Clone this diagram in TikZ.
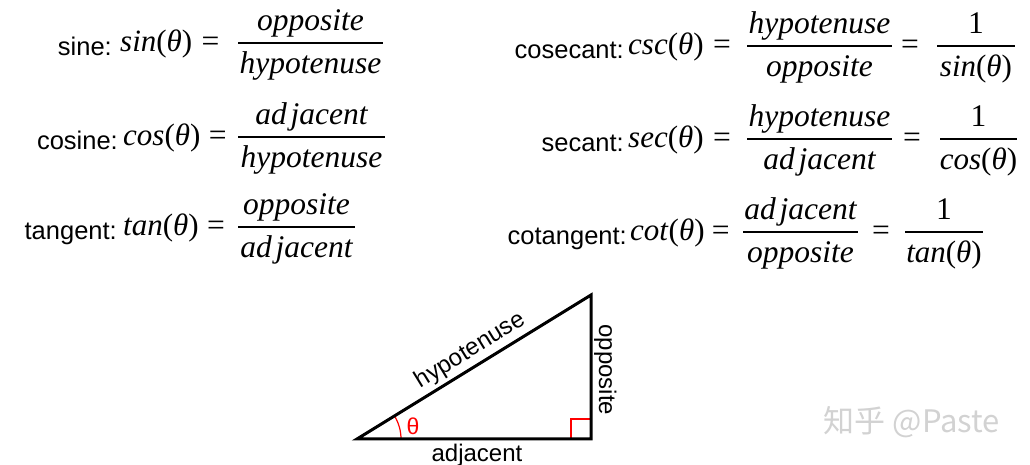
\documentclass[tikz,border=0pt]{standalone}
\usepackage{fontspec}
\setmainfont{Liberation Serif}
\setsansfont{Liberation Sans}
\newfontfamily\cjkfont{Noto Sans CJK SC}
\newcommand{\tfn}[1]{\textit{#1}\textup{(}\textit{θ}\textup{)}}
\newcommand{\adjw}{ad\kern0.12em jacent}
\begin{document}
\begin{tikzpicture}[x=1pt,y=1pt,
  lab/.style={font=\sffamily\fontsize{25.5}{30}\selectfont, anchor=base east, inner sep=0pt},
  lhs/.style={font=\fontsize{31}{36}\selectfont, anchor=base west, inner sep=0pt},
  fr/.style={font=\itshape\fontsize{31.5}{36}\selectfont, anchor=base, inner sep=0pt},
  eqs/.style={font=\fontsize{31.5}{36}\selectfont, anchor=base, inner sep=0pt},
  eql/.style={font=\fontsize{31.5}{36}\selectfont, anchor=base west, inner sep=0pt},
  fbar/.style={line width=1.4pt},
  tri/.style={line width=3pt, line join=miter},
  tlab/.style={font=\sffamily\fontsize{24}{28}\selectfont, inner sep=3pt},
  redmark/.style={red, line width=1.2pt}]
\useasboundingbox (0,0) rectangle (1030,465);

% ---------- sine ----------
\begin{scope}[yshift=422pt]
\node[lab] (lsin) at (112,-13) {sine:};
\node[lhs] (esin) at (120,-9) {\tfn{sin}};
\node[eql] (qsin) at ([xshift=9pt]esin.base east) {=};
\coordinate (sinA) at (238,0); \coordinate (sinB) at (383,0);
\draw[fbar] (sinA) -- (sinB);
\node[fr] (nsin) at (310.5,12) {opposite};
\node[fr] (dsin) at (310.5,-31) {hypotenuse};
\end{scope}

% ---------- cosine ----------
\begin{scope}[yshift=328pt]
\node[lab] (lcos) at (118,-13) {cosine:};
\node[lhs] (ecos) at (123,-9) {\tfn{cos}};
\node[eql] (qcos) at ([xshift=8pt]ecos.base east) {=};
\coordinate (cosA) at (238,0); \coordinate (cosB) at (385,0);
\draw[fbar] (cosA) -- (cosB);
\node[fr] (ncos) at (311.5,12) {\adjw};
\node[fr] (dcos) at (311.5,-31) {hypotenuse};
\end{scope}

% ---------- tangent ----------
\begin{scope}[yshift=238pt]
\node[lab] (ltan) at (117,-13) {tangent:};
\node[lhs] (etan) at (123,-9) {\tfn{tan}};
\node[eql] (qtan) at ([xshift=8pt]etan.base east) {=};
\coordinate (tanA) at (238,0); \coordinate (tanB) at (355,0);
\draw[fbar] (tanA) -- (tanB);
\node[fr] (ntan) at (296.5,12) {opposite};
\node[fr] (dtan) at (296.5,-31) {\adjw};
\end{scope}

% ---------- cosecant ----------
\begin{scope}[yshift=419pt]
\node[lab] (lcsc) at (624,-13) {cosecant:};
\node[lhs] (ecsc) at (628,-9) {\tfn{csc}};
\node[eql] (qcsc) at ([xshift=9pt]ecsc.base east) {=};
\coordinate (cscA) at (747,0); \coordinate (cscB) at (892,0);
\draw[fbar] (cscA) -- (cscB);
\node[fr] (ncsc) at (819.5,12) {hypotenuse};
\node[fr] (dcsc) at (819.5,-31) {opposite};
\node[eqs] (rcsc) at (910,-9) {=};
\coordinate (cscC) at (937,0); \coordinate (cscD) at (1015,0);
\draw[fbar] (cscC) -- (cscD);
\node[eqs] (ocsc) at (976,12) {1};
\node[lhs, anchor=base] (scsc) at (976,-31) {\tfn{sin}};
\end{scope}

% ---------- secant ----------
\begin{scope}[yshift=326pt]
\node[lab] (lsec) at (624,-13) {secant:};
\node[lhs] (esec) at (628,-9) {\tfn{sec}};
\node[eql] (qsec) at ([xshift=9pt]esec.base east) {=};
\coordinate (secA) at (747,0); \coordinate (secB) at (892,0);
\draw[fbar] (secA) -- (secB);
\node[fr] (nsec) at (819.5,12) {hypotenuse};
\node[fr] (dsec) at (819.5,-31) {\adjw};
\node[eqs] (rsec) at (912,-9) {=};
\coordinate (secC) at (940,0); \coordinate (secD) at (1017,0);
\draw[fbar] (secC) -- (secD);
\node[eqs] (osec) at (978.5,12) {1};
\node[lhs, anchor=base] (ssec) at (978.5,-31) {\tfn{cos}};
\end{scope}

% ---------- cotangent ----------
\begin{scope}[yshift=233pt]
\node[lab] (lcot) at (627,-13) {cotangent:};
\node[lhs] (ecot) at (630,-9) {\tfn{cot}};
\node[eql] (qcot) at ([xshift=7pt]ecot.base east) {=};
\coordinate (cotA) at (743,0); \coordinate (cotB) at (858,0);
\draw[fbar] (cotA) -- (cotB);
\node[fr] (ncot) at (800.5,12) {\adjw};
\node[fr] (dcot) at (800.5,-31) {opposite};
\node[eqs] (rcot) at (881,-9) {=};
\coordinate (cotC) at (905,0); \coordinate (cotD) at (983,0);
\draw[fbar] (cotC) -- (cotD);
\node[eqs] (ocot) at (944,12) {1};
\node[lhs, anchor=base] (scot) at (944,-31) {\tfn{tan}};
\end{scope}

% ---------- triangle ----------
\coordinate (A) at (357,26);
\coordinate (B) at (591,26);
\coordinate (C) at (591,170);
\draw[redmark] (571,26) |- (591,46);
\draw[redmark] (401,26) arc[start angle=0, end angle=31.6, radius=44pt];
\node[red, font=\sffamily\fontsize{23}{27}\selectfont, inner sep=0pt] (th) at (413,39) {θ};
\draw[tri] (A) -- node[tlab, sloped, above, pos=0.52] (hyp) {hypotenuse} (C) -- (B) -- cycle;
\path (C) -- node[tlab, sloped, above, pos=0.52] (opp) {opposite} (B);
\node[tlab, anchor=base, inner sep=0pt] (adj) at (477,3) {adjacent};

% ---------- watermark ----------
\node[font=\cjkfont\fontsize{31}{35}\selectfont, text=gray!35, inner sep=0pt] (wm) at (912,43) {知乎 @Paste};
\end{tikzpicture}
\end{document}
